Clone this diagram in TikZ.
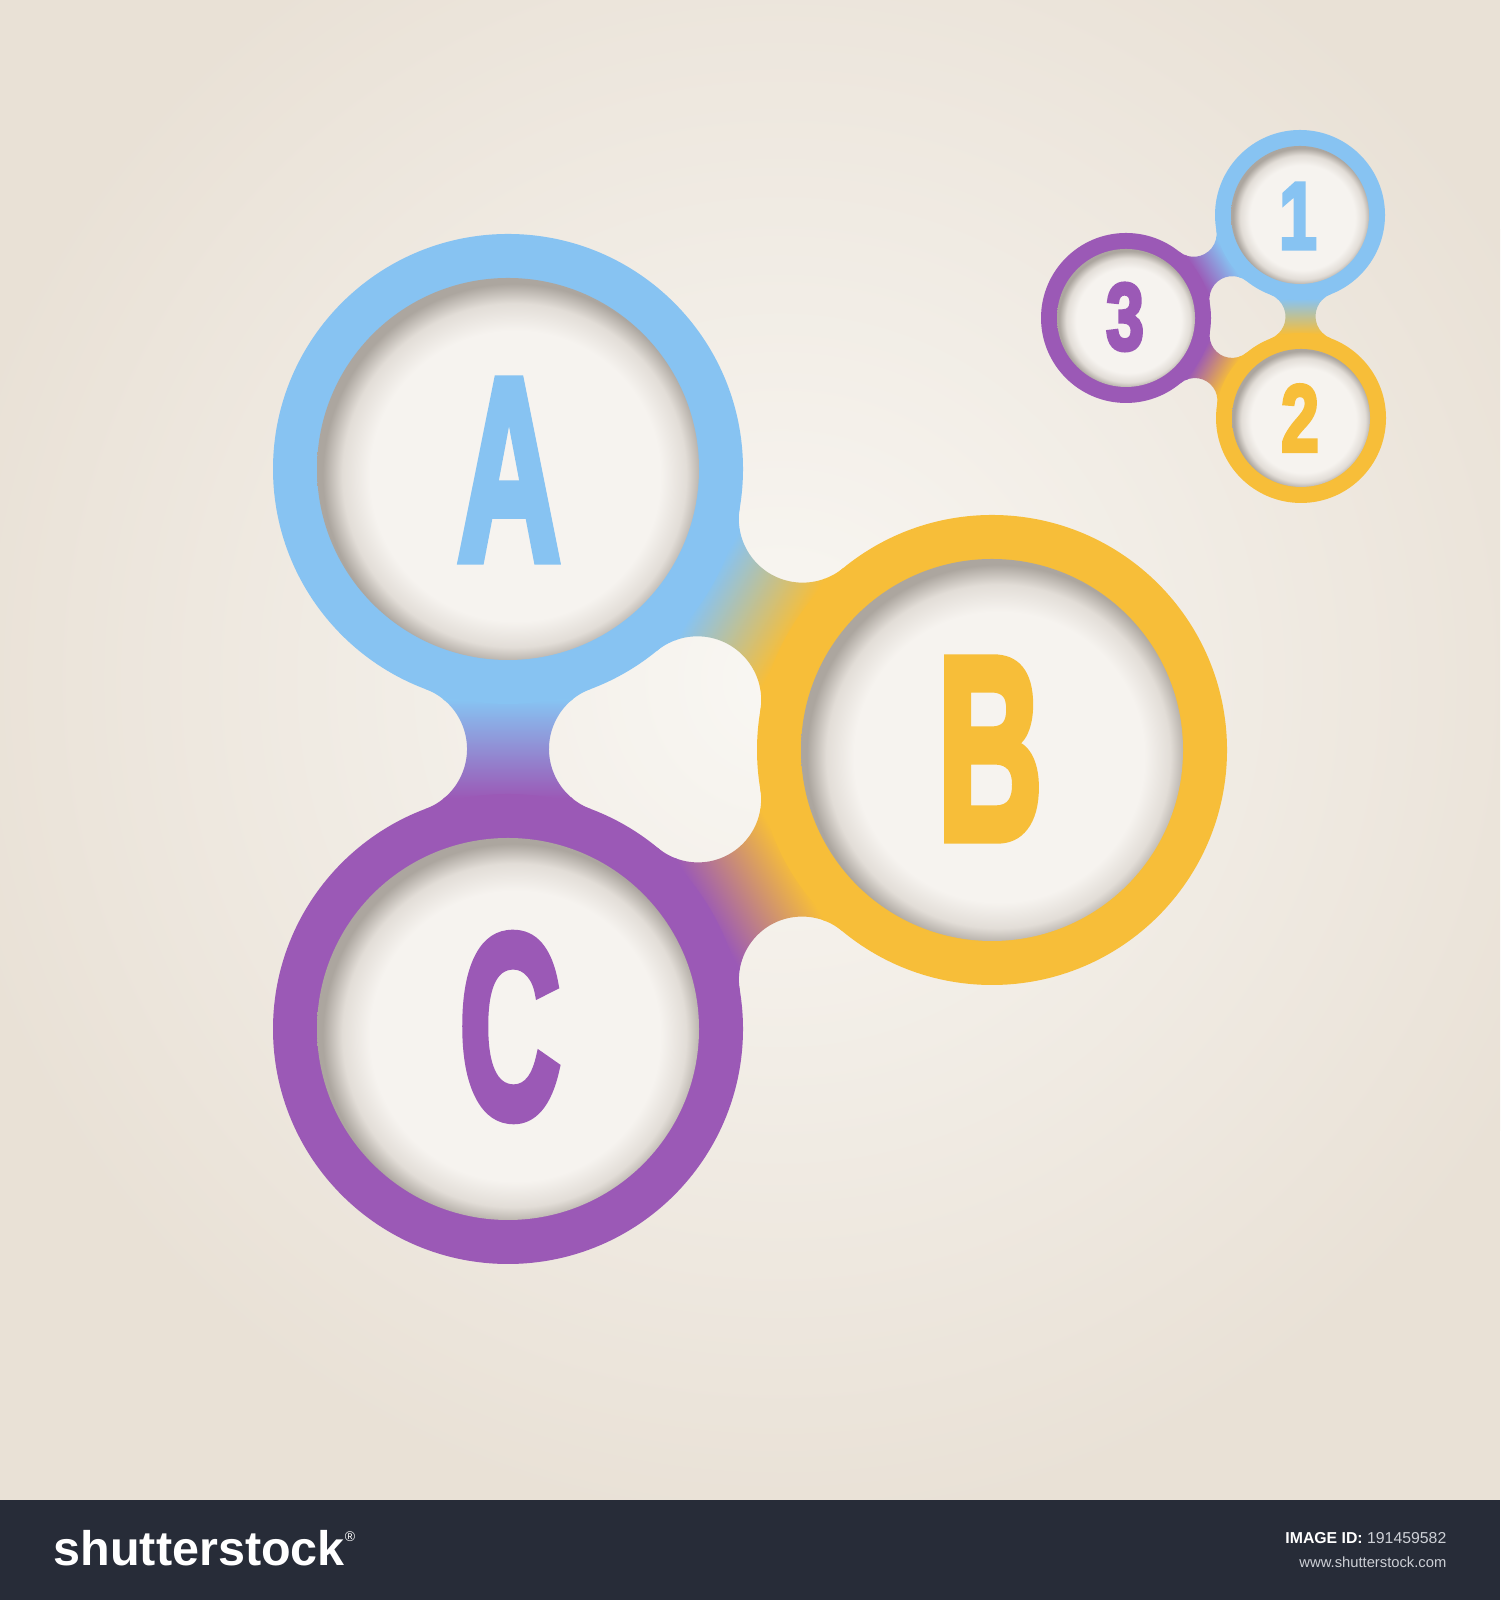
\documentclass[tikz,border=0pt]{standalone}
\usepackage{fontspec}
\newfontfamily\lsans{Liberation Sans}
\newfontfamily\heavy[BoldFeatures={FakeBold=4}]{Liberation Sans}
\definecolor{cblue}{RGB}{135,195,242}
\definecolor{corange}{RGB}{247,190,57}
\definecolor{cpurple}{RGB}{155,89,182}
\definecolor{bgc}{RGB}{249,247,243}
\definecolor{bge}{RGB}{233,225,214}
\definecolor{barc}{RGB}{39,44,56}
\definecolor{inw}{RGB}{246,243,239}
\definecolor{ing1}{RGB}{226,221,215}
\definecolor{ing2}{RGB}{172,166,159}
\definecolor{idgray}{RGB}{205,208,214}
\pgfdeclareradialshading{holeshade}{\pgfpoint{1.5bp}{-1.5bp}}{color(0bp)=(inw); color(19bp)=(inw); color(22.5bp)=(ing1); color(25bp)=(ing2); color(50bp)=(ing2)}

% bridge between two circles: #1,#2 centre 1; #3,#4 centre 2; #5 outer radius; #6 neck half-width; #7,#8 colours
\newcommand\mybridge[8]{%
\pgfmathsetmacro\bdx{#3-#1}%
\pgfmathsetmacro\bdy{#4-#2}%
\pgfmathsetmacro\bd{veclen(\bdx,\bdy)}%
\pgfmathsetmacro\bh{\bd/2}%
\pgfmathsetmacro\bphi{atan2(\bdy,\bdx)}%
\pgfmathsetmacro\bR{(\bh*\bh+#6*#6-#5*#5)/(2*(#5-#6))}%
\pgfmathsetmacro\bxo{\bR+#6}%
\pgfmathsetmacro\balpha{atan2(\bxo,\bh)}%
\pgfmathsetmacro\bmx{(#1+#3)/2}%
\pgfmathsetmacro\bmy{(#2+#4)/2}%
\pgfmathsetmacro\bg{1.2*#6}%
\begin{scope}
\clip (#1,#2) -- ++(\bphi+\balpha:#5)
  arc[start angle=\bphi+180+\balpha, end angle=\bphi+360-\balpha, radius=\bR]
  -- (#3,#4) -- ++(\bphi+180+\balpha:#5)
  arc[start angle=\bphi+\balpha, end angle=\bphi+180-\balpha, radius=\bR] -- cycle;
\begin{scope}[transform canvas={shift={(\bmx,\bmy)},rotate=\bphi}]
\fill[#7] (-3,-3) rectangle (-\bg+0.01,3);
\fill[#8] (\bg-0.01,-3) rectangle (3,3);
\shade[left color=#7,right color=#8] (-\bg,-3) rectangle (\bg,3);
\end{scope}
\end{scope}}

\tikzset{
  ring/.style={circle, inner sep=0pt, fill=#1},
  hole/.style={circle, inner sep=0pt, shade, shading=holeshade},
  biglet/.style={font=\heavy\bfseries\fontsize{74}{74}\selectfont, text=#1, inner sep=0pt},
  smalllet/.style={font=\heavy\bfseries\fontsize{27}{27}\selectfont, text=#1, inner sep=0pt}
}

\begin{document}
\begin{tikzpicture}[x=1cm,y=1cm]
\useasboundingbox (0,0) rectangle (15,16);
\fill[bge] (0,1) rectangle (15,16);
\begin{scope}
\clip (0,1) rectangle (15,16);
\shade[inner color=bgc, outer color=bge] (7.8,9.2) circle (8.5);
\end{scope}
\fill[barc] (0,0) rectangle (15,1);

% big bridges
\mybridge{5.08}{11.31}{9.92}{8.50}{2.35}{0.41}{cblue}{corange}
\mybridge{5.08}{11.31}{5.08}{5.71}{2.35}{0.41}{cblue}{cpurple}
\mybridge{9.92}{8.50}{5.08}{5.71}{2.35}{0.41}{corange}{cpurple}
% small bridges
\mybridge{13.00}{13.85}{13.01}{11.82}{0.85}{0.15}{cblue}{corange}
\mybridge{13.00}{13.85}{11.26}{12.82}{0.85}{0.15}{cblue}{cpurple}
\mybridge{13.01}{11.82}{11.26}{12.82}{0.85}{0.15}{corange}{cpurple}

% big circles
\node[ring=cblue, minimum size=4.70cm] (A) at (5.08,11.31) {};
\node[ring=corange, minimum size=4.70cm] (B) at (9.92,8.50) {};
\node[ring=cpurple, minimum size=4.70cm] (C) at (5.08,5.71) {};
\node[hole, minimum size=3.82cm] (Ah) at (A) {};
\node[hole, minimum size=3.82cm] (Bh) at (B) {};
\node[hole, minimum size=3.82cm] (Ch) at (C) {};
\node[biglet=cblue] (lA) at (5.09,11.30) {\scalebox{0.55}[1]{A}};
\node[biglet=corange] (lB) at (9.90,8.51) {\scalebox{0.56}[1]{B}};
\node[biglet=cpurple] (lC) at (5.10,5.73) {\scalebox{0.54}[1]{C}};

% small circles
\node[ring=cblue, minimum size=1.70cm] (n1) at (13.00,13.85) {};
\node[ring=corange, minimum size=1.70cm] (n2) at (13.01,11.82) {};
\node[ring=cpurple, minimum size=1.70cm] (n3) at (11.26,12.82) {};
\node[hole, minimum size=1.38cm] (n1h) at (n1) {};
\node[hole, minimum size=1.38cm] (n2h) at (n2) {};
\node[hole, minimum size=1.38cm] (n3h) at (n3) {};
\node[smalllet=cblue] (l1) at (12.98,13.84) {\scalebox{0.72}[1]{1}};
\node[smalllet=corange] (l2) at (13.00,11.82) {\scalebox{0.72}[1]{2}};
\node[smalllet=cpurple] (l3) at (11.25,12.83) {\scalebox{0.72}[1]{3}};

% footer
\node[anchor=base west, inner sep=0pt, text=white, font=\lsans\bfseries\fontsize{13.8}{13.8}\selectfont] (logo) at (0.53,0.34) {shutterstock\raisebox{0.5em}{\fontsize{4}{4}\selectfont\textmd{®}}};
\node[anchor=base east, inner sep=0pt, text=white, font=\lsans\fontsize{4.5}{4.5}\selectfont] (imgid) at (14.47,0.56) {\textbf{IMAGE ID:} \textcolor{idgray}{191459582}};
\node[anchor=base east, inner sep=0pt, text=idgray, font=\lsans\fontsize{4.2}{4.2}\selectfont] (www) at (14.47,0.32) {www.shutterstock.com};
\end{tikzpicture}
\end{document}
